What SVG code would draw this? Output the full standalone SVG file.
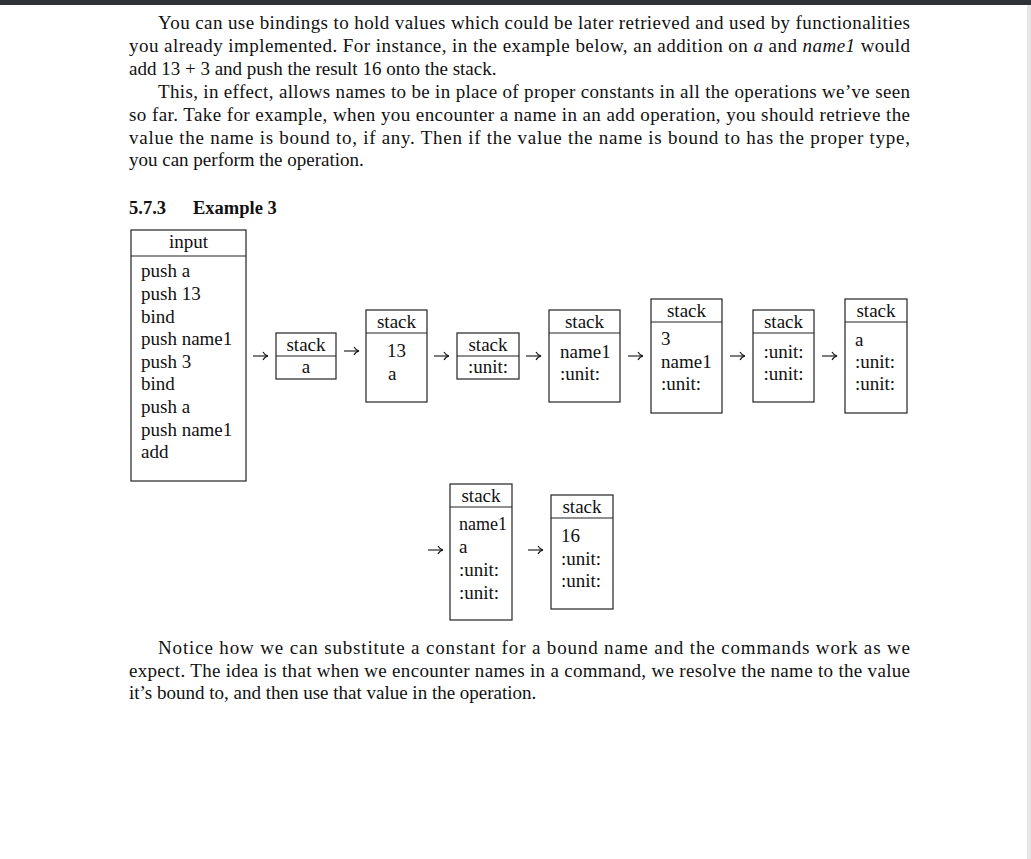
<svg xmlns="http://www.w3.org/2000/svg" width="1031" height="859" viewBox="0 0 1031 859">
<style>
text{font-family:"Liberation Serif","DejaVu Serif",serif;font-size:19px;fill:#111}
.b{fill:#fff;stroke:#222;stroke-width:1.2}
.d{stroke:#222;stroke-width:1.2}
.c{text-anchor:middle}
.h{font-weight:bold;font-size:18.5px}
.a{fill:none;stroke:#111;stroke-width:1.1}
</style>
<defs><marker id="ah" markerWidth="8" markerHeight="10" refX="6" refY="5" orient="auto" markerUnits="userSpaceOnUse"><path d="M1,1 Q3,4.5 6,5 Q3,5.5 1,9" fill="none" stroke="#111" stroke-width="1.1"/></marker></defs>
<rect width="1031" height="859" fill="#fff"/>
<rect width="1031" height="5" fill="#2e3136"/>
<rect x="1027" y="5" width="4" height="854" fill="#e6e6e6"/>
<g id="text">
<text x="158" y="29" textLength="752" lengthAdjust="spacing">You can use bindings to hold values which could be later retrieved and used by functionalities</text>
<text x="129" y="52" textLength="781" lengthAdjust="spacing">you already implemented. For instance, in the example below, an addition on <tspan font-style="italic">a</tspan> and <tspan font-style="italic">name1</tspan> would</text>
<text x="129" y="75">add 13 + 3 and push the result 16 onto the stack.</text>
<text x="158" y="98" textLength="752" lengthAdjust="spacing">This, in effect, allows names to be in place of proper constants in all the operations we’ve seen</text>
<text x="129" y="121" textLength="781" lengthAdjust="spacing">so far. Take for example, when you encounter a name in an add operation, you should retrieve the</text>
<text x="129" y="144" textLength="781" lengthAdjust="spacing">value the name is bound to, if any. Then if the value the name is bound to has the proper type,</text>
<text x="129" y="166">you can perform the operation.</text>
<text x="129" y="214" class="h">5.7.3</text><text x="193" y="214" class="h">Example 3</text>
<text x="158" y="654" textLength="752" lengthAdjust="spacing">Notice how we can substitute a constant for a bound name and the commands work as we</text>
<text x="129" y="677" textLength="781" lengthAdjust="spacing">expect. The idea is that when we encounter names in a command, we resolve the name to the value</text>
<text x="129" y="699">it’s bound to, and then use that value in the operation.</text>
</g>
<g id="input"><rect class="b" x="131" y="230" width="115" height="251"/><line class="d" x1="131" y1="256" x2="246" y2="256"/>
<text class="c" x="188.5" y="248">input</text>
<text x="141" y="277">push a</text><text x="141" y="300">push 13</text><text x="141" y="323">bind</text><text x="141" y="345">push name1</text><text x="141" y="368">push 3</text><text x="141" y="390">bind</text><text x="141" y="413">push a</text><text x="141" y="436">push name1</text><text x="141" y="458">add</text></g>
<g id="s1"><rect class="b" x="276" y="333" width="60" height="46"/><line class="d" x1="276" y1="356" x2="336" y2="356"/><text class="c" x="306" y="351">stack</text><text class="c" x="306" y="373">a</text></g>
<g id="s2"><rect class="b" x="366" y="310" width="61" height="92"/><line class="d" x1="366" y1="333" x2="427" y2="333"/><text class="c" x="396.5" y="328">stack</text><text class="c" x="396.5" y="357">13</text><text x="388" y="380">a</text></g>
<g id="s3"><rect class="b" x="457" y="333" width="62" height="46"/><line class="d" x1="457" y1="356" x2="519" y2="356"/><text class="c" x="488" y="351">stack</text><text class="c" x="488" y="373">:unit:</text></g>
<g id="s4"><rect class="b" x="549" y="310" width="71" height="92"/><line class="d" x1="549" y1="333" x2="620" y2="333"/><text class="c" x="584.5" y="328">stack</text><text x="560" y="358">name1</text><text x="560" y="380">:unit:</text></g>
<g id="s5"><rect class="b" x="651" y="299" width="71" height="114"/><line class="d" x1="651" y1="322" x2="722" y2="322"/><text class="c" x="686.5" y="317">stack</text><text x="661" y="345">3</text><text x="661" y="368">name1</text><text x="661" y="390">:unit:</text></g>
<g id="s6"><rect class="b" x="753" y="310" width="61" height="92"/><line class="d" x1="753" y1="333" x2="814" y2="333"/><text class="c" x="783.5" y="328">stack</text><text class="c" x="783.5" y="358">:unit:</text><text class="c" x="783.5" y="380">:unit:</text></g>
<g id="s7"><rect class="b" x="845" y="299" width="62" height="114"/><line class="d" x1="845" y1="322" x2="907" y2="322"/><text class="c" x="876" y="317">stack</text><text x="855" y="346">a</text><text x="855" y="368">:unit:</text><text x="855" y="390">:unit:</text></g>
<g id="s8"><rect class="b" x="450" y="484" width="62" height="136"/><line class="d" x1="450" y1="507" x2="512" y2="507"/><text class="c" x="481" y="502">stack</text><text x="459" y="530" textLength="48" lengthAdjust="spacingAndGlyphs">name1</text><text x="459" y="553">a</text><text x="459" y="576">:unit:</text><text x="459" y="599">:unit:</text></g>
<g id="s9"><rect class="b" x="551" y="495" width="62" height="114"/><line class="d" x1="551" y1="518" x2="613" y2="518"/><text class="c" x="582" y="513">stack</text><text x="561" y="542">16</text><text x="561" y="565">:unit:</text><text x="561" y="587">:unit:</text></g>
<g id="connectors">
<path class="a" d="M253,356 H268" marker-end="url(#ah)"/><path class="a" d="M344,351 H359" marker-end="url(#ah)"/><path class="a" d="M434,356 H449" marker-end="url(#ah)"/><path class="a" d="M526,356 H541" marker-end="url(#ah)"/><path class="a" d="M628,356 H643" marker-end="url(#ah)"/><path class="a" d="M730,356 H745" marker-end="url(#ah)"/><path class="a" d="M822,356 H837" marker-end="url(#ah)"/>
<path class="a" d="M428,550 H443" marker-end="url(#ah)"/><path class="a" d="M528,550 H543" marker-end="url(#ah)"/>
</g>
</svg>
